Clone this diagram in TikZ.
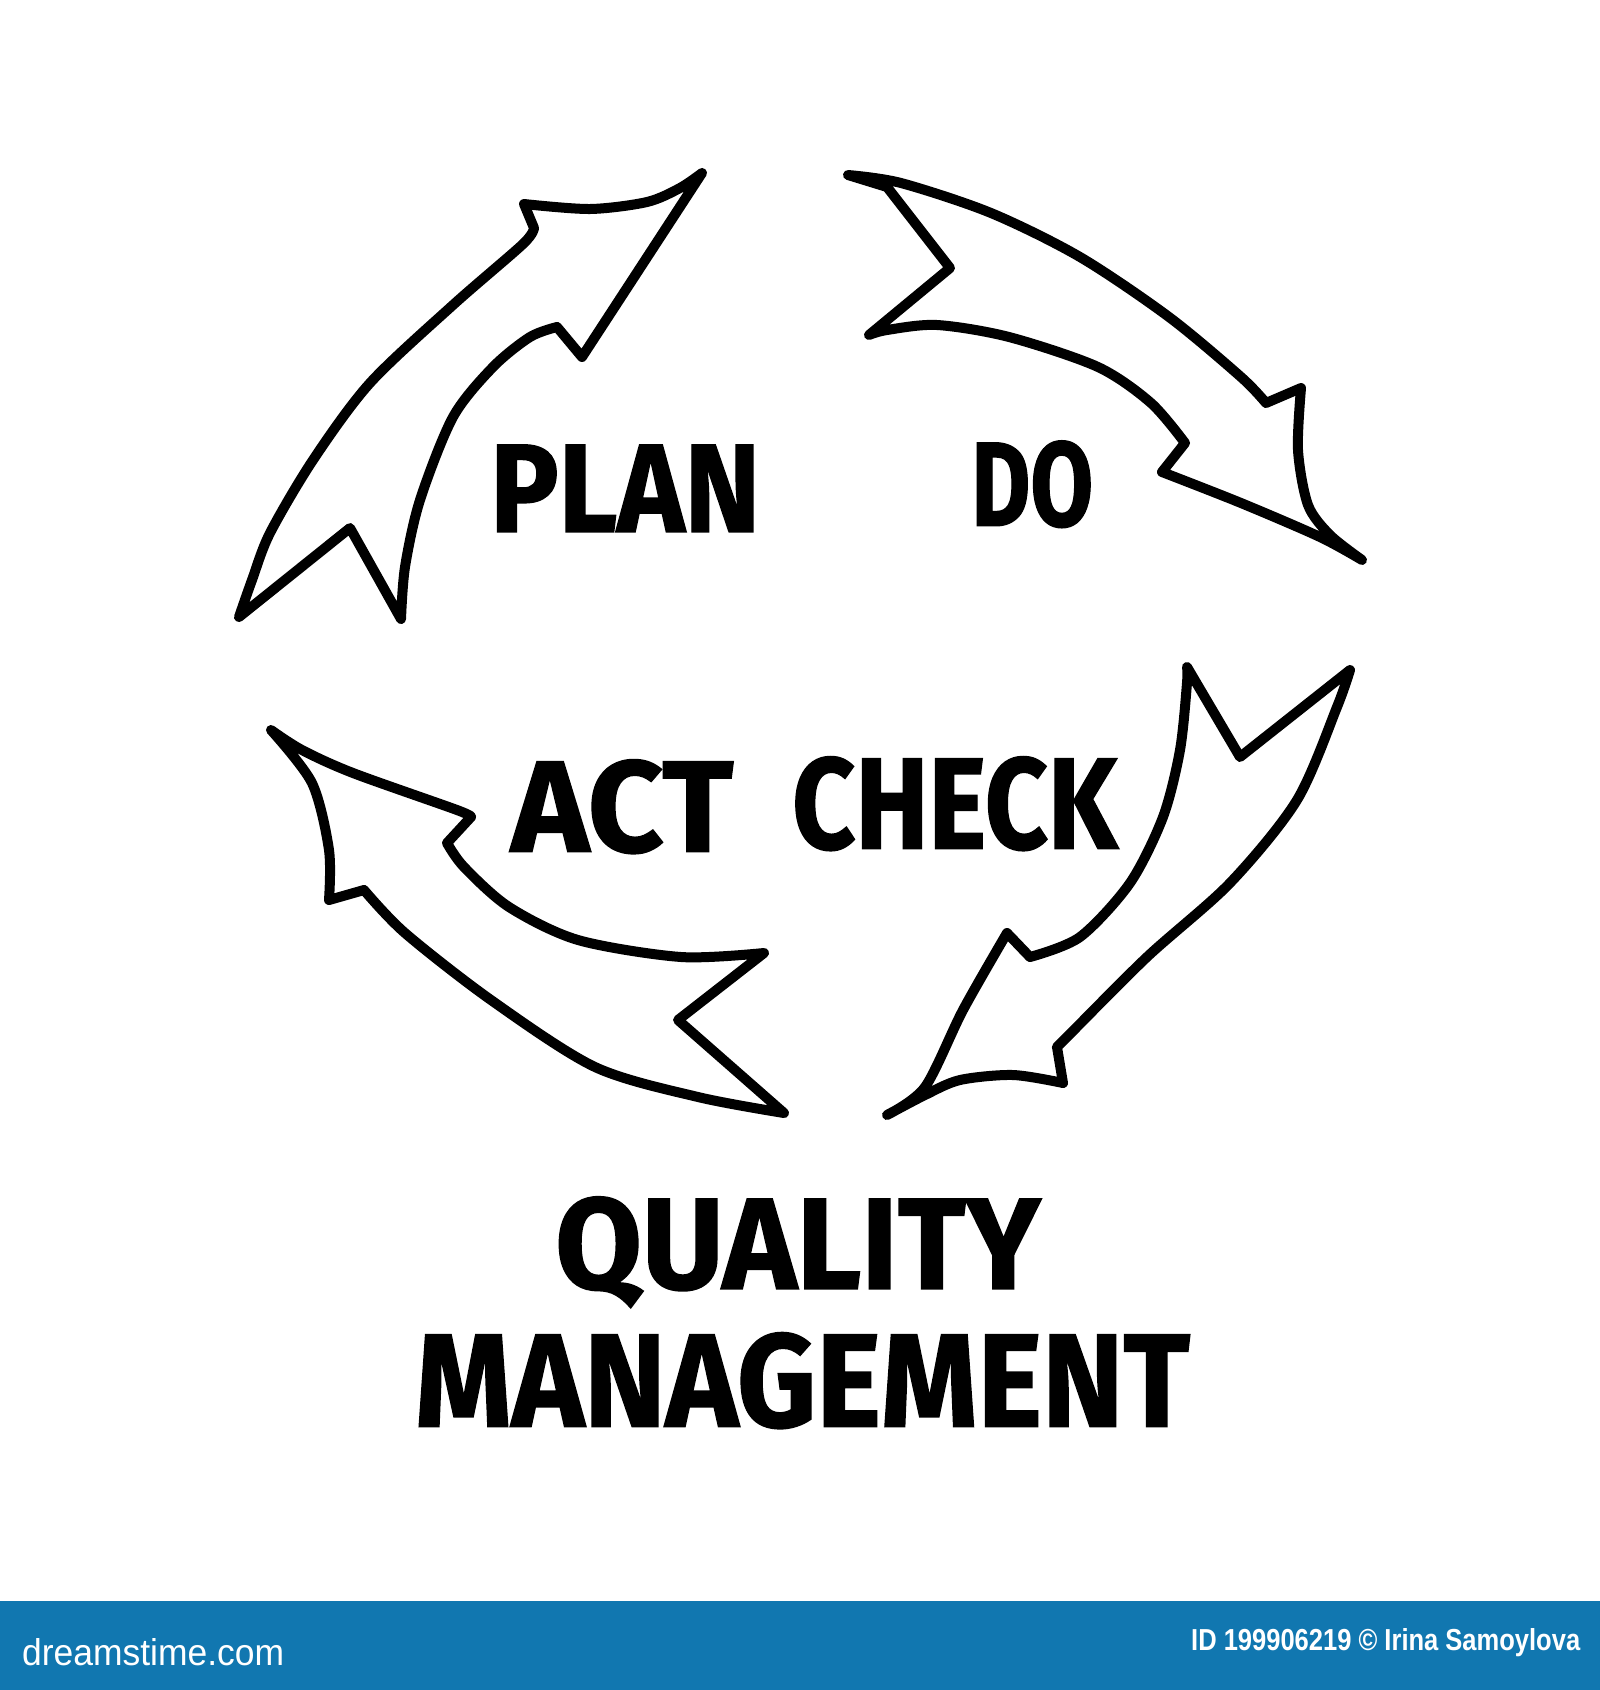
\documentclass[tikz,border=0pt]{standalone}
\usepackage{fontspec}
\setmainfont{Fira Sans}[BoldFeatures={FakeBold=1.2}]
\newfontfamily\barfont{Liberation Sans}
\usepackage{graphicx}
\definecolor{bandblue}{RGB}{17,119,176}
\tikzset{
  arrowline/.style={draw=black, line width=10pt, line join=round, line cap=round},
  word/.style={inner sep=0pt, anchor=south west, font=\bfseries},
  bartext/.style={inner sep=0pt, anchor=south west, text=white, font=\barfont}
}
\begin{document}
\begin{tikzpicture}[x=1pt,y=-1pt]
\useasboundingbox (0,0) rectangle (1600,1690);
\fill[white] (0,0) rectangle (1600,1690);

% PLAN arrow (up-right)
\draw[arrowline] plot[smooth] coordinates {(702,173) (680,188) (647,202) (590,209) (524,204)}
  -- (534,228)
  -- plot[smooth] coordinates {(534,228) (523,244) (453,305) (370,383) (313,460) (270,533) (252,580) (239,617)}
  -- (350,528) -- (401,619)
  -- plot[smooth] coordinates {(401,619) (405,567) (420,500) (453,417) (493,367) (530,337) (557,327)}
  -- (582,357) -- cycle;

% DO arrow (down-right)
\draw[arrowline] plot[smooth] coordinates {(848,175) (901,183) (991,213) (1080,257) (1169,317) (1241,377) (1266,403)}
  -- (1301,388)
  -- plot[smooth] coordinates {(1301,388) (1298,450) (1308,505) (1330,535) (1362,560)}
  -- plot[smooth] coordinates {(1362,560) (1320,537) (1241,503) (1162,472)}
  -- (1185,443)
  -- plot[smooth] coordinates {(1185,443) (1151,403) (1098,367) (1009,337) (937,325) (887,330) (869,335)}
  -- (950,268) -- (887,187) -- cycle;

% CHECK arrow (down-left)
\draw[arrowline] (1187,667) -- (1240,757) -- (1350,670)
  -- plot[smooth] coordinates {(1350,670) (1337,707) (1297,800) (1230,883) (1147,957) (1067,1037) (1057,1047)}
  -- (1063,1083)
  -- plot[smooth] coordinates {(1063,1083) (1013,1075) (960,1080) (925,1095) (887,1115)}
  -- plot[smooth] coordinates {(887,1115) (925,1087) (963,1010) (1007,933)}
  -- (1030,957)
  -- plot[smooth] coordinates {(1030,957) (1080,937) (1130,883) (1163,817) (1180,750) (1187,683) (1187,667)}
  -- cycle;

% ACT arrow (up-left)
\draw[arrowline] plot[smooth] coordinates {(271,730) (302,750) (353,773) (457,810) (471,817)}
  -- (447,843)
  -- plot[smooth] coordinates {(447,843) (464,867) (509,907) (578,940) (681,957) (764,953)}
  -- (678,1020) -- (784,1113)
  -- plot[smooth] coordinates {(784,1113) (698,1097) (595,1067) (491,1000) (405,933) (364,890)}
  -- (329,900)
  -- plot[smooth] coordinates {(329,900) (329,850) (312,783) (271,730)}
  -- cycle;

% words
\node[word] (plan) at (490,532) {\resizebox{270pt}{87pt}{PLAN}};
\node[word] (do) at (971,528) {\resizebox{122pt}{85pt}{DO}};
\node[word] (act) at (511,854) {\resizebox{222pt}{92pt}{ACT}};
\node[word] (check) at (792,851) {\resizebox{325pt}{92pt}{CHECK}};
\node[word] (quality) at (555,1308) {\resizebox{485pt}{92pt}{QUALITY}};
\node[word] (management) at (415,1429) {\resizebox{774pt}{94pt}{MANAGEMENT}};

% bottom band
\fill[bandblue] (0,1601) rectangle (1600,1690);
\node[bartext] (logo) at (22,1666) {\resizebox{262pt}{27pt}{dreamstime.com}};
\node[bartext] (credit) at (1191,1657) {\resizebox{389pt}{22pt}{\bfseries ID 199906219 © Irina Samoylova}};
\end{tikzpicture}
\end{document}
